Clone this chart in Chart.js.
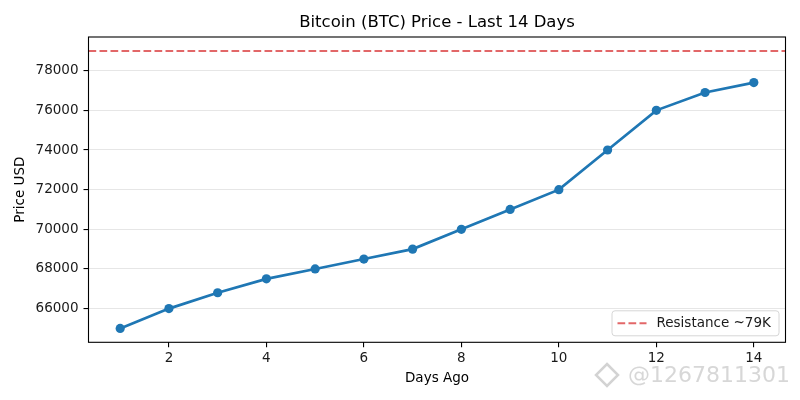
<!DOCTYPE html>
<html lang="en">
<head>
    <meta charset="UTF-8">
    <title>Bitcoin (BTC) Price - Last 14 Days</title>
    <script src="https://cdn.jsdelivr.net/npm/chart.js"></script>
    <style>
        html, body { margin: 0; padding: 0; background: #ffffff; }
        #wrap { width: 800px; height: 400px; position: relative; }
    </style>
</head>
<body>
    <div id="wrap"><canvas id="btc"></canvas></div>

    <script>
        // Data
        const daysAgo = [1, 2, 3, 4, 5, 6, 7, 8, 9, 10, 11, 12, 13, 14];
        const priceUsd = [65000, 66000, 66800, 67500, 68000, 68500, 69000, 70000, 71000, 72000, 74000, 76000, 76900, 77400];
        const resistance = 79000;
        const xTicks = [2, 4, 6, 8, 10, 12, 14];
        const yTicks = [66000, 68000, 70000, 72000, 74000, 76000, 78000];
        const xLimits = [0.35, 14.65];
        const yLimits = [64300, 79700];
        const chartTitle = 'Bitcoin (BTC) Price - Last 14 Days';

        const FONT = 'DejaVu Sans';

        // title centred over the axes, frame, in-axes legend, watermark
        const framePlugin = {
            id: 'frame',
            afterDraw(chart) {
                const { ctx, chartArea: a } = chart;
                ctx.save();

                ctx.fillStyle = '#000';
                ctx.font = '16.5px "' + FONT + '"';
                ctx.textAlign = 'center';
                ctx.textBaseline = 'middle';
                ctx.fillText(chartTitle, (a.left + a.right) / 2, 23);

                ctx.strokeStyle = '#000';
                ctx.lineWidth = 1.1;
                ctx.strokeRect(a.left, a.top, a.right - a.left, a.bottom - a.top);

                // legend box, lower right
                const ds = chart.data.datasets[1];
                const bw = 167, bh = 25;
                const bx = a.right - 7 - bw, by = a.bottom - 7 - bh;
                ctx.fillStyle = 'rgba(255,255,255,0.8)';
                ctx.strokeStyle = '#d6d6d6';
                ctx.lineWidth = 1;
                ctx.beginPath();
                ctx.roundRect(bx + 0.5, by + 0.5, bw, bh, 3);
                ctx.fill();
                ctx.stroke();
                ctx.strokeStyle = ds.borderColor;
                ctx.lineWidth = ds.borderWidth;
                ctx.setLineDash(ds.borderDash);
                ctx.beginPath();
                ctx.moveTo(bx + 6, by + bh / 2 + 0.5);
                ctx.lineTo(bx + 35, by + bh / 2 + 0.5);
                ctx.stroke();
                ctx.setLineDash([]);
                ctx.fillStyle = '#1a1a1a';
                ctx.font = '13.5px "' + FONT + '"';
                ctx.textAlign = 'left';
                ctx.fillText(ds.label, bx + 45, by + bh / 2 + 1);

                // watermark with a small diamond mark
                ctx.strokeStyle = 'rgba(200,200,200,0.8)';
                ctx.lineWidth = 2.5;
                ctx.beginPath();
                ctx.moveTo(607, 364); ctx.lineTo(618, 375); ctx.lineTo(607, 386); ctx.lineTo(596, 375);
                ctx.closePath();
                ctx.stroke();
                ctx.fillStyle = 'rgba(205,205,205,0.8)';
                ctx.font = '22px "' + FONT + '"';
                ctx.textAlign = 'right';
                ctx.fillText('@1267811301', 790, 376);
                ctx.restore();
            }
        };

        new Chart(document.getElementById('btc'), {
            type: 'line',
            data: {
                datasets: [
                    {
                        label: 'BTC Price',
                        data: daysAgo.map((d, i) => ({ x: d, y: priceUsd[i] })),
                        borderColor: '#1f77b4',
                        backgroundColor: '#1f77b4',
                        borderWidth: 2.7,
                        pointRadius: 4.6,
                        pointBorderWidth: 0,
                        tension: 0
                    },
                    {
                        label: 'Resistance ~79K',
                        data: xLimits.map(x => ({ x: x, y: resistance })),
                        borderColor: 'rgba(214,39,40,0.7)',
                        borderWidth: 2,
                        borderDash: [7.7, 3.3],
                        pointRadius: 0
                    }
                ]
            },
            options: {
                responsive: true,
                maintainAspectRatio: false,
                animation: false,
                layout: { padding: { left: 0, right: 14.5, top: 37, bottom: 0 } },
                plugins: {
                    legend: { display: false },
                    tooltip: { enabled: false },
                    title: { display: false }
                },
                scales: {
                    x: {
                        type: 'linear',
                        min: xLimits[0],
                        max: xLimits[1],
                        afterBuildTicks: axis => { axis.ticks = xTicks.map(v => ({ value: v })); },
                        afterFit: axis => { axis.height = 57.7; },
                        grid: { drawOnChartArea: false, drawTicks: true, tickLength: 5, tickColor: '#000', lineWidth: 1.1 },
                        border: { display: false },
                        ticks: { color: '#1a1a1a', padding: 3, maxRotation: 0, font: { family: FONT, size: 13.5 } },
                        title: { display: true, text: 'Days Ago', color: '#000', font: { family: FONT, size: 13.5 }, padding: { top: 4, bottom: 13 } }
                    },
                    y: {
                        min: yLimits[0],
                        max: yLimits[1],
                        afterBuildTicks: axis => { axis.ticks = yTicks.map(v => ({ value: v })); },
                        afterFit: axis => { axis.width = 88.5; },
                        grid: { color: '#e6e6e6', lineWidth: 1.1, tickLength: 5, tickColor: '#000' },
                        border: { display: false },
                        ticks: { color: '#1a1a1a', padding: 5, font: { family: FONT, size: 13.5 }, callback: v => String(v) },
                        title: { display: true, text: 'Price USD', color: '#000', font: { family: FONT, size: 13.5 }, padding: { top: 12, bottom: 4 } }
                    }
                }
            },
            plugins: [framePlugin]
        });
    </script>
</body>
</html>
